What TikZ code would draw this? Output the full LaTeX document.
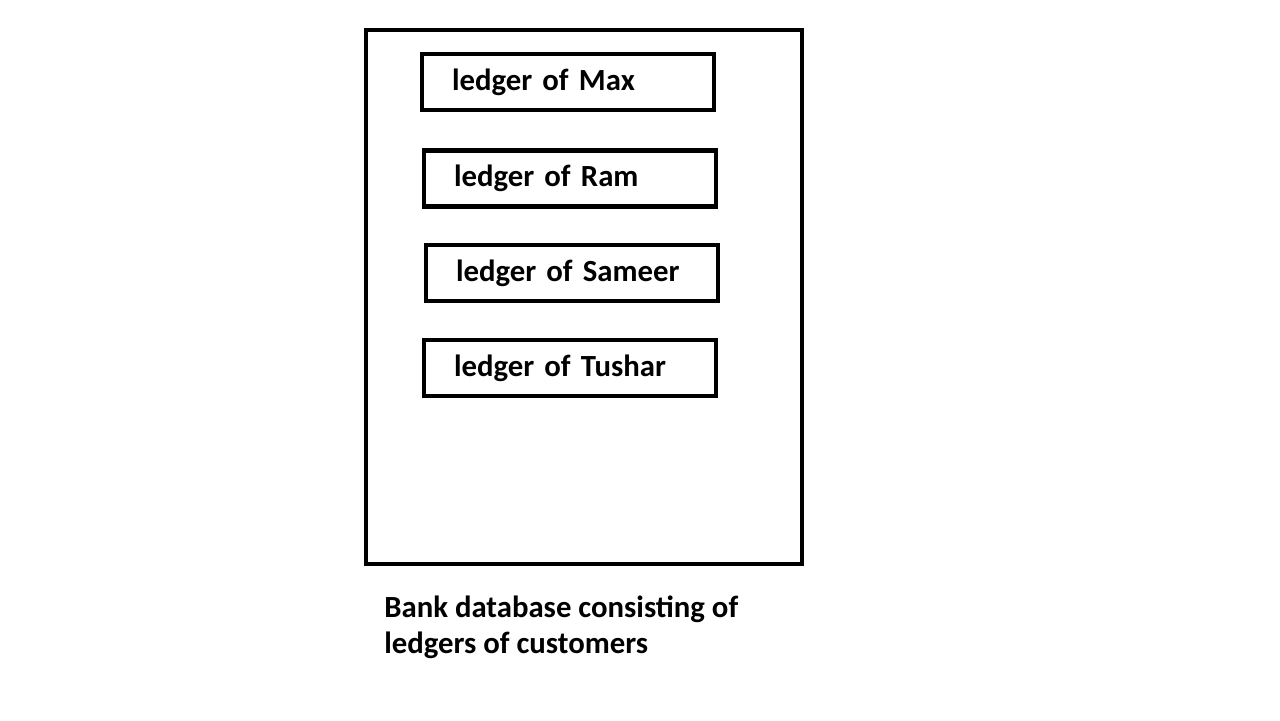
\documentclass[tikz,border=0pt]{standalone}
\usepackage{fontspec}
\setmainfont{Carlito}
\tikzset{
  ledger/.style={draw, line width=2.3pt, anchor=west, minimum height=1.12cm,
    text width=4.64cm, inner xsep=0.6cm, align=left, font=\fontsize{17.5}{20}\selectfont\bfseries}
}
\begin{document}
\begin{tikzpicture}
    \useasboundingbox (0,0) rectangle (25.6,14.4);

    \draw[line width=2.4pt] (7.32,13.8) rectangle (16.04,3.12);

    \node[ledger] (max)    at (8.4,12.76)  {ledger of Max};
    \node[ledger] (ram)    at (8.44,10.83) {ledger of Ram};
    \node[ledger] (sameer) at (8.48,8.94)  {ledger of Sameer};
    \node[ledger] (tushar) at (8.44,7.04)  {ledger of Tushar};

    \node[anchor=north west, align=left, inner sep=0pt,
          font=\fontsize{17.5}{20.5}\selectfont\bfseries] (caption) at (7.68,2.49)
        {Bank database consisting of\\ledgers of customers};
\end{tikzpicture}
\end{document}
